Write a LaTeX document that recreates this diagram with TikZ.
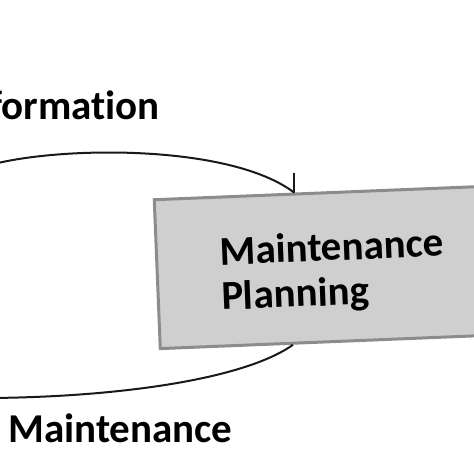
\documentclass[tikz,border=0pt]{standalone}
\usepackage{fontspec}
\setmainfont[Ligatures=NoCommon]{Carlito}
\usetikzlibrary{calc}
\definecolor{bordergray}{HTML}{8C8C8C}
\definecolor{fillgray}{HTML}{CFCFCF}
\begin{document}
\begin{tikzpicture}[x=1pt,y=1pt,
  lbl/.style={font=\fontsize{41}{45}\selectfont\bfseries, inner sep=0pt, text=black},
  boxstyle/.style={draw=bordergray, fill=fillgray, line width=3pt, rectangle, inner sep=0pt},
  conn/.style={line width=2pt, draw=black!90}]
\useasboundingbox (0,0) rectangle (474,474);
\begin{scope}
\clip (0,0) rectangle (474,474);
\node[boxstyle, rotate=2.32, minimum width=360, minimum height=149, anchor=north west] (box) at (152.7,275.7) {};
\node[lbl, rotate=2.32, anchor=base west, align=left] (boxtext) at (222,164) {Maintenance\\Planning};
\node[lbl, anchor=base east] (info) at (160,354) {Information};
\node[lbl, anchor=base west] (maint) at (8,31) {Maintenance};
\coordinate (topstart) at (-10,309);
\coordinate (topend) at ($(box.north west)!0.39!(box.north east)$);
\coordinate (ticktop) at ($(topend)+(0,20)$);
\coordinate (botstart) at ($(box.south west)!0.37!(box.south east)$);
\coordinate (botend) at (-10,76);
\draw[conn] (topstart) .. controls (60,328) and (230,330) .. (topend);
\draw[conn, line width=1.3pt] (ticktop) -- (topend);
\draw[conn] (botstart) .. controls (245,95) and (120,77) .. (botend);
\end{scope}
\end{tikzpicture}
\end{document}
